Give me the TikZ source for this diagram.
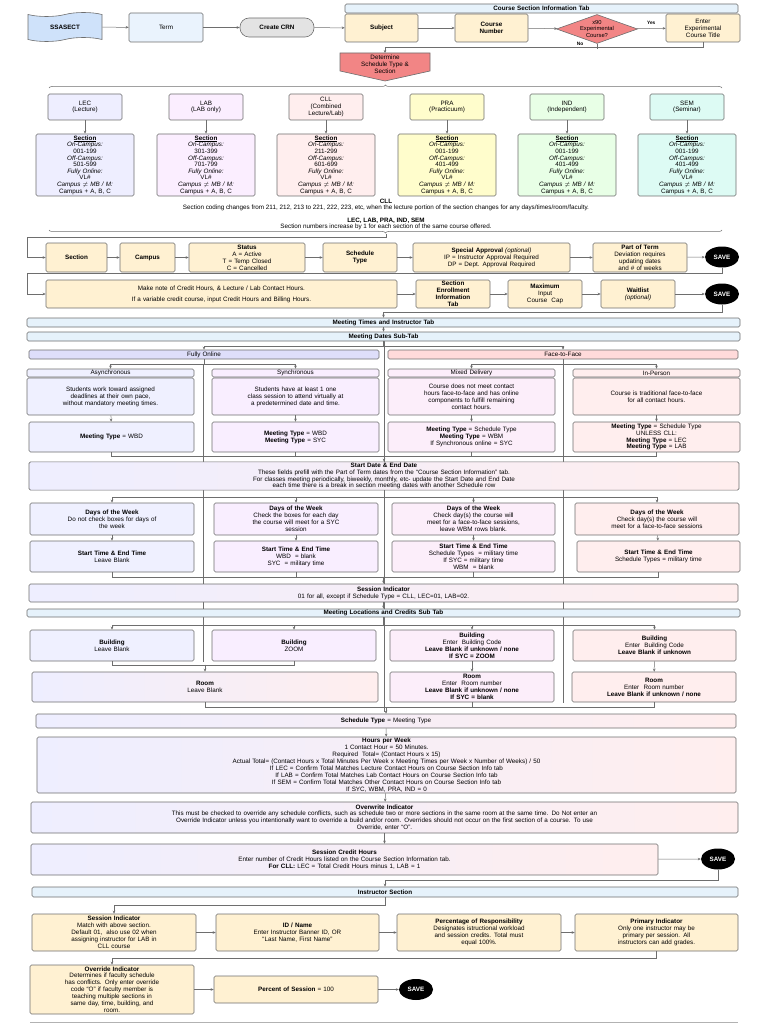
\documentclass[tikz,border=0pt]{standalone}
\usepackage{fontspec}
\setmainfont{Liberation Sans}
\usetikzlibrary{arrows.meta,shapes.geometric,shapes.symbols,decorations.pathreplacing}
\definecolor{bd}{HTML}{6E6E6E}
\definecolor{cream}{HTML}{FFF1D2}
\definecolor{tabc}{HTML}{E6F2FB}
\definecolor{ssc}{HTML}{CFE2FA}
\definecolor{termc}{HTML}{EAF3FD}
\definecolor{redc}{HTML}{F28585}
\definecolor{lecc}{HTML}{EEEEFF}
\definecolor{labc}{HTML}{FBEEFF}
\definecolor{cllc}{HTML}{FFEEEE}
\definecolor{prac}{HTML}{FFFDCC}
\definecolor{indc}{HTML}{E8FFE6}
\definecolor{semc}{HTML}{DDFBF4}
\definecolor{onlc}{HTML}{DEDEFA}
\definecolor{ffc}{HTML}{FFDADA}
\definecolor{cA}{HTML}{EFF0FF}
\definecolor{cS}{HTML}{F9EEFF}
\definecolor{cM}{HTML}{FCEEFA}
\definecolor{cI}{HTML}{FFEEEE}
\newcommand\fs{\fontsize{6.3}{6.9}\selectfont}
\newcommand\fss{\fontsize{6.3}{6.6}\selectfont}
\newcommand\bx[7]{\node[box,#6,minimum width=\dimexpr #4pt-#2pt\relax,minimum height=\dimexpr #5pt-#3pt\relax,text width=\dimexpr #4pt-#2pt-12pt\relax] (#1) at ({(#2+#4)/2},{(#3+#5)/2}) {#7};}
\newcommand\typ[4]{\node[box,fill=#3,minimum width=74pt,minimum height=26pt,text width=70pt] (#1) at (#2,107) {#4};}
\newcommand\secb[5]{\node[box,fill=#3,minimum width=98pt,minimum height=62pt,text width=94pt,font=\fss] (#1) at (#2,165) {\underline{\textbf{Section}}\\\textit{On-Campus:}\\#4\\\textit{Off-Campus:}\\#5\\\textit{Fully Online:}\\VL\#\\\textit{Campus $\neq$ MB / M:}\\Campus + A, B, C};}
\tikzset{
 box/.style={draw=bd,rounded corners=1.5pt,line width=0.6pt,align=center,inner sep=0.8pt,font=\fs},
 grad/.style={left color=lecc,middle color=labc,right color=cllc},
 savebox/.style={ellipse,fill=black,text=white,font=\fs\bfseries,minimum width=34pt,minimum height=21pt,inner sep=0pt},
 arr/.style={draw=bd,line width=0.5pt,-{Stealth[length=3pt,width=2.6pt]}},
 ln/.style={draw=bd,line width=0.5pt},
 sep/.style={draw=bd,line width=0.7pt}
}
\begin{document}
\begin{tikzpicture}[x=1pt,y=-1pt]
\useasboundingbox (0,0) rectangle (768,1024);
% separators
\draw[sep] (203,365) -- (203,662);
\draw[sep] (563,365) -- (563,703);
\draw[sep] (384,341) -- (384,712);
% row 1
\node[tape,draw=bd,fill=ssc,line width=0.6pt,minimum width=74pt,minimum height=29pt,font=\fs\bfseries,tape bend top=in and out,tape bend bottom=in and out,tape bend height=4pt] (ss) at (65,27) {SSASECT};
\bx{term}{129}{13}{203}{42}{fill=termc}{Term}
\node[box,fill=gray!22,rounded corners=9pt,minimum width=74pt,minimum height=19pt,font=\fs\bfseries] (crn) at (277,27.5) {Create CRN};
\bx{csi}{345}{4}{738}{13}{fill=tabc}{\textbf{Course Section Information Tab}}
\bx{subj}{345}{14}{418}{42}{fill=cream}{\textbf{Subject}}
\bx{cnum}{455}{14}{528}{42}{fill=cream}{\textbf{Course\\Number}}
\node[diamond,draw=bd,fill=redc,line width=0.6pt,minimum width=81pt,minimum height=29pt,aspect=2.8,inner sep=-2pt,align=center,font=\fontsize{5.8}{6.2}\selectfont] (x90) at (597,29) {x90\\Experimental\\Course?};
\bx{exp}{666}{14}{740}{42}{fill=cream}{Enter\\Experimental\\Course Title}
\draw[arr] (ss) -- (term);
\draw[arr] (term) -- (crn);
\draw[arr] (crn) -- (subj);
\draw[arr] (subj) -- (cnum);
\draw[arr] (cnum) -- (x90);
\draw[arr] (x90) -- node[above,font=\fontsize{4.8}{5}\selectfont\bfseries]{Yes} (exp);
\node[font=\fontsize{4.8}{5}\selectfont\bfseries] at (580,44) {No};
\draw[fill=redc,draw=bd,line width=0.6pt] (340,53) -- (430,53) -- (430,71) -- (385,81) -- (340,71) -- cycle;
\node[align=center,font=\fs] (det) at (385,64) {Determine\\Schedule Type \&\\Section};
\coordinate (detTop) at (385,53);
\draw[arr] (exp.south) -- ++(0,5) -| (detTop);
\draw[ln] (x90.south) -- ++(0,5);
% brace 1
\draw[ln,decorate,decoration={brace,amplitude=3pt}] (49,88) -- (722,88);
% types
\typ{tLEC}{85}{lecc}{LEC\\(Lecture)}
\typ{tLAB}{206}{labc}{LAB\\(LAB only)}
\typ{tCLL}{326}{cllc}{CLL\\(Combined\\Lecture/Lab)}
\typ{tPRA}{447}{prac}{PRA\\(Practicuum)}
\typ{tIND}{567}{indc}{IND\\(Independent)}
\typ{tSEM}{687}{semc}{SEM\\(Seminar)}
\secb{sLEC}{85}{lecc}{001-199}{501-599}
\secb{sLAB}{206}{labc}{301-399}{701-799}
\secb{sCLL}{326}{cllc}{211-299}{601-699}
\secb{sPRA}{447}{prac}{001-199}{401-499}
\secb{sIND}{567}{indc}{001-199}{401-499}
\secb{sSEM}{687}{semc}{001-199}{401-499}
\foreach \a in {LEC,LAB,CLL,PRA,IND,SEM}{\draw[arr] (t\a) -- (s\a);}
\node[font=\fs,align=center] (cllnote) at (386,205) {\textbf{CLL}\\Section coding changes from 211, 212, 213 to 221, 222, 223, etc, when the lecture portion of the section changes for any days/times/room/faculty.};
\node[font=\fs,align=center] (allnote) at (386,224) {\textbf{LEC, LAB, PRA, IND, SEM}\\Section numbers increase by 1 for each section of the same course offered.};
\draw[ln,decorate,decoration={brace,amplitude=3pt,mirror}] (49,230) -- (722,230);
\coordinate (b2) at (386,234);
% row 2
\bx{rSec}{46}{243}{107}{272}{fill=cream}{\textbf{Section}}
\bx{rCamp}{120}{243}{175}{272}{fill=cream}{\textbf{Campus}}
\bx{rStat}{189}{243}{305}{272}{fill=cream}{\textbf{Status}\\A = Active\\T = Temp Closed\\C = Cancelled}
\bx{rSched}{323}{243}{397}{272}{fill=cream}{\textbf{Schedule\\Type}}
\bx{rSpec}{413}{243}{570}{272}{fill=cream}{\textbf{Special Approval} \textit{(optional)}\\IP = Instructor Approval Required\\DP = Dept. Approval Required}
\bx{rPart}{593}{243}{687}{272}{fill=cream}{\textbf{Part of Term}\\Deviation requires\\updating dates\\and \# of weeks}
\node[savebox] (save1) at (722,257) {SAVE};
\draw[arr] (b2) -- ++(0,3) -- ++(-359,0) |- (rSec.west);
\draw[arr] (rSec) -- (rCamp);
\draw[arr] (rCamp) -- (rStat);
\draw[arr] (rStat) -- (rSched);
\draw[arr] (rSched) -- (rSpec);
\draw[arr] (rSpec) -- (rPart);
\draw[arr] (rPart) -- (save1);
% row 3
\bx{mk}{46}{280}{397}{308}{fill=cream}{Make note of Credit Hours, \& Lecture / Lab Contact Hours.\\[4pt]If a variable credit course, input Credit Hours and Billing Hours.}
\bx{sei}{416}{280}{490}{308}{fill=cream}{\textbf{Section\\Enrollment\\Information\\Tab}}
\bx{max}{508}{280}{582}{308}{fill=cream}{\textbf{Maximum}\\Input\\Course\ \ Cap}
\bx{wait}{601}{280}{675}{308}{fill=cream}{\textbf{Waitlist}\\\textit{(optional)}}
\node[savebox] (save2) at (722,294) {SAVE};
\draw[arr] (save1.south) -- ++(0,6) -- ++(-695,0) |- (mk.west);
\draw[arr] (mk) -- (sei);
\draw[arr] (sei) -- (max);
\draw[arr] (max) -- (wait);
\draw[arr] (wait) -- (save2);
% tabs
\bx{mt}{27}{318}{740}{327}{fill=tabc}{\textbf{Meeting Times and Instructor Tab}}
\bx{md}{27}{332}{740}{341}{fill=tabc}{\textbf{Meeting Dates Sub-Tab}}
\draw[arr] (save2.south) -- ++(0,8) -| (mt.north);
\draw[arr] (mt) -- (md);
\bx{fo}{29}{350}{379}{359}{fill=onlc}{Fully Online}
\bx{ff}{388}{350}{738}{359}{fill=ffc}{Face-to-Face}
\draw[ln] (md.south) -- ++(0,5) coordinate (j0);
\draw[arr] (j0) -| (fo.north);
\draw[arr] (j0) -| (ff.north);
% headers
\bx{hA}{27}{369}{194}{377}{fill=cA}{Asynchronous}
\bx{hS}{212}{369}{379}{377}{fill=cS}{Synchronous}
\bx{hM}{388}{369}{555}{377}{fill=cM}{Mixed Delivery}
\bx{hI}{573}{369}{740}{377}{fill=cI}{In-Person}
\draw[ln] (fo.south) -- ++(0,5) coordinate (j1);
\draw[arr] (j1) -| (hA.north);
\draw[arr] (j1) -| (hS.north);
\draw[ln] (ff.south) -- ++(0,5) coordinate (j1b);
\draw[arr] (j1b) -| (hM.north);
\draw[arr] (j1b) -| (hI.north);
\bx{dA}{27}{378}{194}{415}{fill=cA}{Students work toward assigned\\deadlines at their own pace,\\without mandatory meeting times.}
\bx{dS}{212}{378}{379}{415}{fill=cS}{Students have at least 1 one\\class session to attend virtually at\\a predetermined date and time.}
\bx{dM}{388}{378}{555}{415}{fill=cM}{Course does not meet contact\\hours face-to-face and has online\\components to fulfill remaining\\contact hours.}
\bx{dI}{573}{378}{740}{415}{fill=cI}{Course is traditional face-to-face\\for all contact hours.}
\bx{mA}{29}{422}{194}{452}{fill=cA}{\textbf{Meeting Type} = WBD}
\bx{mS}{212}{422}{379}{452}{fill=cS}{\textbf{Meeting Type} = WBD\\\textbf{Meeting Type} = SYC}
\bx{mM}{388}{422}{555}{452}{fill=cM}{\textbf{Meeting Type} = Schedule Type\\\textbf{Meeting Type} = WBM\\If Synchronous online = SYC}
\bx{mI}{573}{422}{740}{452}{fill=cI}{\textbf{Meeting Type} = Schedule Type\\UNLESS CLL:\\\textbf{Meeting Type} = LEC\\\textbf{Meeting Type} = LAB}
\foreach \c in {A,S,M,I}{\draw[arr] (d\c) -- (m\c);}
\draw[ln] (mA.south) -- ++(0,4) -| (mI.south);
\draw[ln] (mS.south) -- ++(0,4);
\draw[ln] (mM.south) -- ++(0,4);
% start date
\bx{sd}{29}{462}{739}{490}{grad}{\textbf{Start Date \& End Date}\\These fields prefill with the Part of Term dates from the ``Course Section Information'' tab.\\For classes meeting periodically, biweekly, monthly, etc- update the Start Date and End Date\\each time there is a break in section meeting dates with another Schedule row}
\draw[arr] (sd.north) ++(0,-6) -- (sd.north);
\bx{dwA}{30}{503}{194}{535}{fill=cA}{\textbf{Days of the Week}\\Do not check boxes for days of\\the week}
\bx{dwS}{214}{503}{378}{535}{fill=cS}{\textbf{Days of the Week}\\Check the boxes for each day\\the course will meet for a SYC\\session}
\bx{dwM}{392}{503}{555}{535}{fill=cM}{\textbf{Days of the Week}\\Check day(s) the course will\\meet for a face-to-face sessions,\\leave WBM rows blank.}
\bx{dwI}{575}{503}{739}{535}{fill=cI}{\textbf{Days of the Week}\\Check day(s) the course will\\meet for a face-to-face sessions}
\draw[ln] (sd.south) -- ++(0,7) coordinate (j3);
\foreach \c in {A,S,M,I}{\draw[arr] (j3) -| (dw\c.north);}
\bx{stA}{30}{541}{194}{572}{fill=cA}{\textbf{Start Time \& End Time}\\Leave Blank}
\bx{stS}{214}{541}{378}{572}{fill=cS}{\textbf{Start Time \& End Time}\\WBD\ \ = blank\\SYC\ \ = military time}
\bx{stM}{392}{541}{555}{572}{fill=cM}{\textbf{Start Time \& End Time}\\Schedule Types\ \ = military time\\If SYC = military time\\WBM\ \ = blank}
\bx{stI}{577}{541}{740}{572}{fill=cI}{\textbf{Start Time \& End Time}\\Schedule Types = military time}
\foreach \c in {A,S,M,I}{\draw[arr] (dw\c) -- (st\c);}
\draw[ln] (stA.south) -- ++(0,5) -| (stI.south);
\draw[ln] (stS.south) -- ++(0,5);
\draw[ln] (stM.south) -- ++(0,5);
\bx{si}{29}{584}{738}{602}{grad}{\textbf{Session Indicator}\\01 for all, except if Schedule Type = CLL, LEC=01, LAB=02.}
\draw[arr] (si.north) ++(0,-7) -- (si.north);
\bx{ml}{27}{609}{740}{617}{fill=tabc}{\textbf{Meeting Locations and Credits Sub Tab}}
\draw[arr] (si) -- (ml);
\bx{bA}{30}{630}{194}{661}{fill=cA}{\textbf{Building}\\Leave Blank}
\bx{bS}{212}{630}{376}{661}{fill=cS}{\textbf{Building}\\ZOOM}
\bx{bM}{390}{630}{554}{661}{fill=cM}{\textbf{Building}\\Enter\ \ Building Code\\\textbf{Leave Blank if unknown / none}\\\textbf{If SYC = ZOOM}}
\bx{bI}{573}{630}{736}{661}{fill=cI}{\textbf{Building}\\Enter\ \ Building Code\\\textbf{Leave Blank if unknown}}
\draw[ln] (ml.south) -- ++(0,8) coordinate (j4);
\foreach \c in {A,S,M,I}{\draw[arr] (j4) -| (b\c.north);}
\bx{rL}{32}{672}{378}{702}{grad}{\textbf{Room}\\Leave Blank}
\bx{rM}{390}{672}{554}{702}{fill=cM}{\textbf{Room}\\Enter\ \ Room number\\\textbf{Leave Blank if unknown / none}\\\textbf{If SYC = blank}}
\bx{rI}{572}{672}{736}{702}{fill=cI}{\textbf{Room}\\Enter\ \ Room number\\\textbf{Leave Blank if unknown / none}}
\draw[ln] (bA.south) -- ++(0,4) -| (bS.south);
\draw[arr] (rL.north) ++(0,-7) -- (rL.north);
\draw[arr] (bM) -- (rM);
\draw[arr] (bI) -- (rI);
\draw[ln] (rL.south) -- ++(0,5) -| (rI.south);
\draw[ln] (rM.south) -- ++(0,5);
\bx{stp}{36}{714}{736}{728}{grad}{\textbf{Schedule Type} = Meeting Type}
\draw[arr] (stp.north) ++(0,-6) -- (stp.north);
\bx{hpw}{37}{737}{736}{793}{grad}{\textbf{Hours per Week}\\1 Contact Hour = 50 Minutes.\\Required\ \ Total= (Contact Hours x 15)\\Actual Total= (Contact Hours x Total Minutes Per Week x Meeting Times per Week x Number of Weeks) / 50\\If LEC = Confirm Total Matches Lecture Contact Hours on Course Section Info tab\\If LAB = Confirm Total Matches Lab Contact Hours on Course Section Info tab\\If SEM = Confirm Total Matches Other Contact Hours on Course Section Info tab\\If SYC, WBM, PRA, IND = 0}
\draw[arr] (stp) -- (hpw);
\bx{ow}{31}{802}{738}{833}{grad}{\textbf{Overwrite Indicator}\\This must be checked to override any schedule conflicts, such as schedule two or more sections in the same room at the same time. Do Not enter an\\Override Indicator unless you intentionally want to override a build and/or room. Overrides should not occur on the first section of a course. To use\\Override, enter ``O''.}
\draw[arr] (hpw) -- (ow);
\bx{sch}{31}{844}{658}{875}{grad}{\textbf{Session Credit Hours}\\Enter number of Credit Hours listed on the Course Section Information tab.\\\textbf{For CLL:} LEC = Total Credit Hours minus 1, LAB = 1}
\draw[arr] (ow.south) -- (ow.south |- sch.north);
\node[savebox] (save3) at (718,859) {SAVE};
\draw[arr] (sch) -- (save3);
\bx{ins}{32}{887}{738}{897}{fill=tabc}{\textbf{Instructor Section}}
\draw[arr] (save3.south) -- ++(0,11) -| (ins.north);
\bx{i1}{32}{914}{196}{951}{fill=cream}{\textbf{Session Indicator}\\Match with above section.\\Default 01,\ \ also use 02 when\\assigning instructor for LAB in\\CLL course}
\bx{i2}{216}{914}{379}{951}{fill=cream}{\textbf{ID / Name}\\Enter Instructor Banner ID, OR\\``Last Name, First Name''}
\bx{i3}{397}{914}{561}{951}{fill=cream}{\textbf{Percentage of Responsibility}\\Designates istructional workload\\and session credits. Total must\\equal 100\%.}
\bx{i4}{575}{914}{738}{951}{fill=cream}{\textbf{Primary Indicator}\\Only one instructor may be\\primary per session. All\\instructors can add grades.}
\draw[arr] (ins.south) -- ++(0,8) -| (i1.north);
\draw[arr] (i1) -- (i2);
\draw[arr] (i2) -- (i3);
\draw[arr] (i3) -- (i4);
\bx{ov}{30}{965}{194}{1014}{fill=cream}{\textbf{Override Indicator}\\Determines if faculty schedule\\has conflicts. Only enter override\\code ``O'' if faculty member is\\teaching multiple sections in\\same day, time, building, and\\room.}
\bx{pos}{214}{976}{378}{1003}{fill=cream}{\textbf{Percent of Session} = 100}
\node[savebox] (save4) at (416,989.5) {SAVE};
\draw[arr] (i4.south) -- ++(0,7) -| (ov.north);
\draw[arr] (ov) -- (pos);
\draw[arr] (pos) -- (save4);
\draw[draw=gray!60,line width=0.8pt] (30,1022) -- (738,1022);
\end{tikzpicture}
\end{document}
